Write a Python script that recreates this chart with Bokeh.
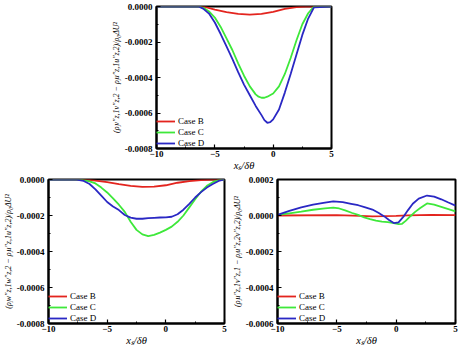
from bokeh.plotting import figure
from bokeh.layouts import column, row
from bokeh.models import Range1d, FixedTicker, PrintfTickFormatter, Label, Legend, LegendItem
from bokeh.embed import file_html
from bokeh.resources import INLINE

# ---------------- data ----------------
CASES = ["Case B", "Case C", "Case D"]
X_TICKS = [-10, -5, 0, 5]
X_MINOR = [-7.5, -2.5, 2.5]

# panel (a)
a_x_B = [-10, -6.0, -5.0, -4.0, -3.0, -2.0, -1.0, 0.0, 1.0, 2.0, 2.8, 5]
a_y_B = [0, 0, -0.000018, -0.000032, -0.000042, -0.000046, -0.000042, -0.000030, -0.000014, -0.000004, 0, 0]
a_x_C = [-10, -6.3, -5.9, -5.5, -5.0, -4.5, -4.0, -3.5, -3.0, -2.5, -2.0, -1.5, -1.25, -1.0, -0.75, -0.5, 0.0, 0.5,
         1.0, 1.5, 2.0, 2.5, 3.0, 3.5, 5]
a_y_C = [0, 0, -0.000010, -0.000028, -0.000062, -0.000115, -0.000180, -0.000245, -0.000320, -0.000390, -0.000450,
         -0.000495, -0.000508, -0.000514, -0.000514, -0.000508, -0.000490, -0.000450, -0.000380, -0.000290, -0.000190,
         -0.000100, -0.000038, 0, 0]
a_x_D = [-10, -6.4, -6.0, -5.5, -5.0, -4.5, -4.0, -3.5, -3.0, -2.5, -2.0, -1.5, -1.0, -0.75, -0.5, -0.25, 0.0, 0.5,
         1.0, 1.5, 2.0, 2.5, 3.0, 3.5, 5]
a_y_D = [0, 0, -0.000012, -0.000040, -0.000090, -0.000155, -0.000225, -0.000295, -0.000370, -0.000440, -0.000500,
         -0.000560, -0.000612, -0.000640, -0.000655, -0.000652, -0.000636, -0.000580, -0.000485, -0.000380, -0.000270,
         -0.000160, -0.000068, -0.000005, 0]
a_y_ticks = [-0.0008, -0.0006, -0.0004, -0.0002, 0.0]
a_y_minor = [-0.0007, -0.0005, -0.0003, -0.0001]

# panel (b)
b_x_B = [-10, -6.8, -6.0, -5.0, -4.0, -3.0, -2.0, -1.0, 0.0, 1.0, 2.0, 3.0, 4.0, 5]
b_y_B = [0, 0, -0.000006, -0.000015, -0.000026, -0.000035, -0.000041, -0.000040, -0.000032, -0.000018, -0.000009,
         -0.000004, -0.000001, 0]
b_x_C = [-10, -7.3, -6.5, -6.0, -5.5, -5.0, -4.5, -4.0, -3.5, -3.0, -2.5, -2.0, -1.5, -1.0, -0.5, 0.0, 0.5, 1.0, 1.5,
         2.0, 2.5, 3.0, 3.5, 4.0, 4.5, 5]
b_y_C = [0, 0, -0.000010, -0.000022, -0.000045, -0.000072, -0.000105, -0.000140, -0.000180, -0.000235, -0.000280,
         -0.000305, -0.000315, -0.000308, -0.000295, -0.000280, -0.000262, -0.000235, -0.000200, -0.000155, -0.000110,
         -0.000068, -0.000035, -0.000015, -0.000003, 0]
b_x_D = [-10, -7.6, -7.0, -6.5, -6.0, -5.5, -5.0, -4.5, -4.0, -3.5, -3.0, -2.5, -2.0, -1.5, -1.0, -0.5, 0.0, 0.5, 1.0,
         1.5, 2.0, 2.5, 3.0, 3.5, 4.0, 4.5, 5]
b_y_D = [0, 0, -0.000008, -0.000025, -0.000055, -0.000090, -0.000125, -0.000150, -0.000170, -0.000197, -0.000212,
         -0.000218, -0.000218, -0.000215, -0.000213, -0.000211, -0.000210, -0.000207, -0.000193, -0.000168, -0.000135,
         -0.000100, -0.000070, -0.000045, -0.000025, -0.000008, 0]
b_y_ticks = [-0.0008, -0.0006, -0.0004, -0.0002, 0.0]
b_y_minor = [-0.0007, -0.0005, -0.0003, -0.0001]

# panel (c)
c_x_B = [-10, -5, -3, -2, -1, 0, 1, 3, 5]
c_y_B = [0, 0.000002, -0.000002, -0.000005, -0.000004, -0.000002, 0.000001, 0.000004, 0.000002]
c_x_C = [-10, -9, -8, -7, -6, -5.3, -4.8, -4.3, -3.7, -3.2, -2.7, -2.2, -1.7, -1.2, -0.7, -0.2, 0.2, 0.5, 0.8, 1.2,
         1.6, 2.0, 2.6, 3.2, 3.8, 4.4, 5]
c_y_C = [0.000003, 0.000012, 0.000021, 0.000032, 0.000040, 0.000044, 0.000039, 0.000028, 0.000014, 0.000003, -0.000010,
         -0.000020, -0.000028, -0.000034, -0.000037, -0.000042, -0.000048, -0.000046, -0.000030, -0.000004, 0.000020,
         0.000040, 0.000067, 0.000060, 0.000048, 0.000036, 0.000023]
c_x_D = [-10, -9, -8, -7, -6, -5.3, -4.5, -3.8, -3.2, -2.6, -2.0, -1.5, -1.0, -0.6, -0.2, 0.2, 0.6, 1.0, 1.4, 1.9, 2.6,
         3.2, 3.8, 4.4, 5]
c_y_D = [0.000003, 0.000026, 0.000045, 0.000060, 0.000071, 0.000078, 0.000074, 0.000065, 0.000057, 0.000045, 0.000033,
         0.000015, -0.000005, -0.000025, -0.000042, -0.000038, -0.000008, 0.000030, 0.000065, 0.000094, 0.000111,
         0.000105, 0.000090, 0.000072, 0.000055]
c_y_ticks = [-0.0006, -0.0004, -0.0002, 0.0, 0.0002]
c_y_minor = [-0.0005, -0.0003, -0.0001, 0.0001]

a_ylabel = "(ρⱼv″z,1v″z,2 − ρⱼu″z,1u″z,2)/ρ₀ΔU²"
b_ylabel = "(ρⱼw″z,1w″z,2 − ρⱼu″z,1u″z,2)/ρ₀ΔU²"
c_ylabel = "(ρⱼu″z,1v″z,1 − ρⱼu″z,2v″z,2)/ρ₀ΔU²"
x_label = "xₛ/δθ"

# ---------------- style ----------------
SERIF = "Liberation Serif"
COLORS = ["#e3241e", "#3ee83a", "#2a28c4"]


def make_panel(width, height, mbl, mbr, mbt, mbb, yr, yticks, yminor, ylabel, letter, letter_dx, series):
    p = figure(width=width, height=height, x_range=Range1d(-10, 5), y_range=Range1d(*yr),
               output_backend="svg", toolbar_location=None,
               min_border_left=mbl, min_border_right=mbr, min_border_top=mbt, min_border_bottom=mbb)
    p.xgrid.visible = False
    p.ygrid.visible = False
    p.outline_line_color = "black"
    p.outline_line_alpha = 1.0
    p.outline_line_width = 2
    p.background_fill_color = "white"
    p.border_fill_color = "white"

    for ax in (p.xaxis[0], p.yaxis[0]):
        ax.axis_line_width = 2
        ax.axis_line_color = "black"
        ax.major_tick_in = 4
        ax.major_tick_out = 0
        ax.minor_tick_in = 2
        ax.minor_tick_out = 0
        ax.major_tick_line_width = 1.2
        ax.minor_tick_line_width = 1.0
        ax.major_tick_line_color = "black"
        ax.minor_tick_line_color = "black"
        ax.major_label_text_font = SERIF
        ax.major_label_text_font_style = "bold"
        ax.major_label_text_font_size = "9px"
        ax.major_label_text_color = "black"
        ax.axis_label_text_font = SERIF
        ax.axis_label_text_font_style = "italic"
        ax.axis_label_text_color = "black"
        ax.axis_label_standoff = 0

    p.xaxis.ticker = FixedTicker(ticks=X_TICKS, minor_ticks=X_MINOR)
    p.xaxis.major_label_standoff = 2
    p.xaxis.axis_label = x_label
    p.xaxis.axis_label_text_font_size = "10.5px"

    p.yaxis.ticker = FixedTicker(ticks=yticks, minor_ticks=yminor)
    p.yaxis.formatter = PrintfTickFormatter(format="%.4f")
    p.yaxis.major_label_standoff = 4
    p.yaxis.axis_label = ylabel
    p.yaxis.axis_label_text_font_size = "8px"
    p.yaxis.axis_label_standoff = 1

    items = []
    for name, color, (xs, ys) in zip(CASES, COLORS, series):
        r = p.line(xs, ys, line_color=color, line_width=1.8)
        items.append(LegendItem(label=name, renderers=[r]))
    legend = Legend(items=items, location="bottom_left")
    legend.border_line_color = None
    legend.background_fill_alpha = 0
    legend.label_text_font = SERIF
    legend.label_text_font_size = "9px"
    legend.label_text_color = "black"
    legend.glyph_width = 19
    legend.glyph_height = 10
    legend.label_height = 10
    legend.spacing = 1
    legend.padding = 2
    legend.margin = 0
    legend.label_standoff = 3
    p.add_layout(legend)

    p.add_layout(Label(x=-10, y=yr[1], x_offset=letter_dx, y_offset=-2, text=letter,
                       text_font=SERIF, text_font_style="italic", text_font_size="10.5px",
                       text_color="black", text_align="center", text_baseline="middle"))
    return p


pa = make_panel(458, 173, 156, 127, 6, 25, (-0.0008, 0.0), a_y_ticks, a_y_minor, a_ylabel, "(a)", -41,
                [(a_x_B, a_y_B), (a_x_C, a_y_C), (a_x_D, a_y_D)])
pb = make_panel(227, 175, 47, 3, 6, 24, (-0.0008, 0.0), b_y_ticks, b_y_minor, b_ylabel, "(b)", -38,
                [(b_x_B, b_y_B), (b_x_C, b_y_C), (b_x_D, b_y_D)])
pc = make_panel(231, 175, 50, 3, 6, 24, (-0.0006, 0.0002), c_y_ticks, c_y_minor, c_ylabel, "(c)", -42,
                [(c_x_B, c_y_B), (c_x_C, c_y_C), (c_x_D, c_y_D)])

layout = column(pa, row(pb, pc))
open("out.html", "w").write(file_html(layout, INLINE))
